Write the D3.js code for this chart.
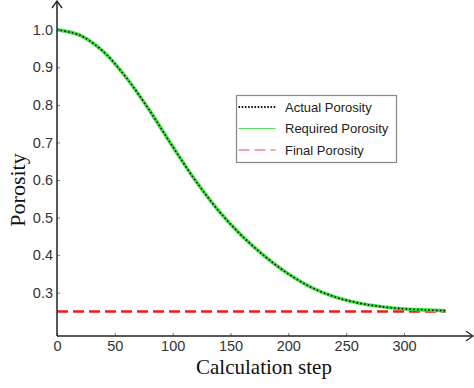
<!DOCTYPE html>
<html>
<head>
<meta charset="utf-8">
<script src="https://cdn.jsdelivr.net/npm/d3@7"></script>
<style>
  body { margin: 0; background: #fff; }
  svg { display: block; }
</style>
</head>
<body>
<svg id="chart" width="474" height="388"></svg>
<script>
// values
var steps = [0, 20, 40, 60, 80, 100, 120, 140, 160, 180, 200, 220, 240, 260, 280, 300, 320, 336];
var actualPorosity   = [1.000, 0.985, 0.942, 0.872, 0.785, 0.689, 0.597, 0.517, 0.451, 0.396, 0.350, 0.314, 0.289, 0.273, 0.263, 0.257, 0.254, 0.252];
var requiredPorosity = [1.000, 0.985, 0.942, 0.872, 0.785, 0.689, 0.597, 0.517, 0.451, 0.396, 0.350, 0.314, 0.289, 0.273, 0.263, 0.257, 0.254, 0.252];
var finalPorosity = 0.25;
var xTicks = [0, 50, 100, 150, 200, 250, 300];
var yTicks = [0.3, 0.4, 0.5, 0.6, 0.7, 0.8, 0.9, 1.0];
var legendNames = ['Actual Porosity', 'Required Porosity', 'Final Porosity'];

var svg = d3.select('#chart');
var tickFont = '"Liberation Sans", Arial, sans-serif';

var x = d3.scaleLinear().domain([0, 300]).range([57, 404]);
var y = d3.scaleLinear().domain([0.3, 1.0]).range([292.7, 29.7]);
var axisLeft = 57, axisBottom = 336, axisRight = 473, axisTop = 1;

//lines first, axes over them
var line = d3.line()
	.x(function(d, i){ return x(steps[i]); })
	.y(function(d){ return y(d); })
	.curve(d3.curveCatmullRom);

svg.append('line')
	.attr('x1', x(0)).attr('x2', x(336))
	.attr('y1', y(finalPorosity)).attr('y2', y(finalPorosity))
	.attr('stroke', '#ee1c1c')
	.attr('stroke-width', 2.5)
	.attr('stroke-dasharray', '11,5');

svg.append('path')
	.datum(requiredPorosity)
	.attr('d', line)
	.attr('fill', 'none')
	.attr('stroke', '#3ada3a')
	.attr('stroke-width', 3.4);

svg.append('path')
	.datum(actualPorosity)
	.attr('d', line)
	.attr('fill', 'none')
	.attr('stroke', '#111')
	.attr('stroke-width', 1.6)
	.attr('stroke-dasharray', '1.5,2.3');

//axes
var xAxis = d3.axisBottom(x).tickValues(xTicks).tickSize(-3).tickPadding(5).tickFormat(d3.format('d'));
var gx = svg.append('g').attr('transform', 'translate(0,' + axisBottom + ')').call(xAxis);
var yAxis = d3.axisLeft(y).tickValues(yTicks).tickSize(-3).tickPadding(4).tickFormat(d3.format('.1f'));
var gy = svg.append('g').attr('transform', 'translate(' + axisLeft + ',0)').call(yAxis);

[gx, gy].forEach(function(g){
	g.select('.domain').remove();
	g.selectAll('.tick line').attr('stroke', '#777');
	g.selectAll('.tick text')
		.attr('font-family', tickFont)
		.attr('font-size', 14.5)
		.attr('fill', '#333');
});

svg.append('line')
	.attr('x1', axisLeft).attr('x2', axisRight - 1)
	.attr('y1', axisBottom).attr('y2', axisBottom)
	.attr('stroke', '#222').attr('stroke-width', 1.5);
svg.append('line')
	.attr('x1', axisLeft).attr('x2', axisLeft)
	.attr('y1', axisBottom).attr('y2', axisTop)
	.attr('stroke', '#222').attr('stroke-width', 1.5);
//arrow heads
svg.append('path')
	.attr('d', 'M' + (axisRight - 7) + ',' + (axisBottom - 5) + 'L' + axisRight + ',' + axisBottom + 'L' + (axisRight - 7) + ',' + (axisBottom + 5))
	.attr('fill', 'none').attr('stroke', '#222').attr('stroke-width', 1.3);
svg.append('path')
	.attr('d', 'M' + (axisLeft - 5) + ',' + (axisTop + 7) + 'L' + axisLeft + ',' + axisTop + 'L' + (axisLeft + 5) + ',' + (axisTop + 7))
	.attr('fill', 'none').attr('stroke', '#222').attr('stroke-width', 1.3);

//axis titles
svg.append('text')
	.text('Calculation step')
	.attr('x', 264).attr('y', 374)
	.attr('text-anchor', 'middle')
	.attr('font-family', '"Liberation Serif", serif')
	.attr('font-size', 21)
	.attr('fill', '#111');
svg.append('text')
	.text('Porosity')
	.attr('transform', 'translate(25,190) rotate(-90)')
	.attr('text-anchor', 'middle')
	.attr('font-family', '"Liberation Serif", serif')
	.attr('font-size', 22)
	.attr('fill', '#111');

//legend
var legend = svg.append('g').attr('transform', 'translate(236.5,95.5)');
legend.append('rect')
	.attr('width', 160).attr('height', 67)
	.attr('fill', '#fff')
	.attr('stroke', '#888').attr('stroke-width', 1.2);
var styles = [
	{stroke: '#111', width: 2, dash: '1.6,1.6'},
	{stroke: '#5ada5a', width: 1.2, dash: null},
	{stroke: '#e8505a', width: 1.2, dash: '11,5'}
];
var rows = legend.selectAll('g.row')
	.data(legendNames)
	.enter()
	.append('g')
	.attr('class', 'row')
	.attr('transform', function(d, i){ return 'translate(0,' + (11.5 + i * 21.5) + ')'; });
rows.append('line')
	.attr('x1', 2).attr('x2', 39)
	.attr('y1', 0).attr('y2', 0)
	.attr('stroke', function(d, i){ return styles[i].stroke; })
	.attr('stroke-width', function(d, i){ return styles[i].width; })
	.attr('stroke-dasharray', function(d, i){ return styles[i].dash; });
rows.append('text')
	.text(function(d){ return d; })
	.attr('x', 48.5).attr('y', 0)
	.attr('dy', '0.35em')
	.attr('font-family', tickFont)
	.attr('font-size', 13)
	.attr('fill', '#222');
</script>
</body>
</html>
